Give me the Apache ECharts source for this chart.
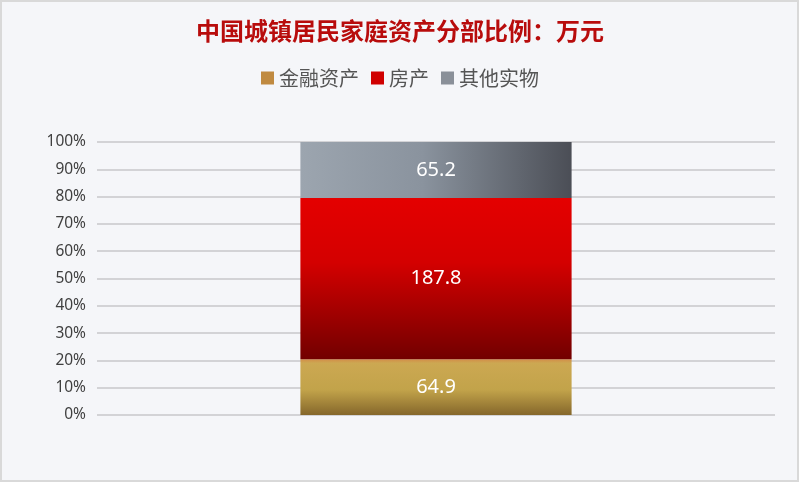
<!DOCTYPE html>
<html><head><meta charset="utf-8">
<script src="https://cdn.jsdelivr.net/npm/echarts@6/dist/echarts.min.js"></script>
<style>html,body{margin:0;padding:0;background:#fff;}#c{width:800px;height:494px;}</style>
</head><body><div id="c"></div>
<script>
const categories = [''];
const seriesNames = ['金融资产', '房产', '其他实物'];
const financial = [64.9];
const housing = [187.8];
const other = [65.2];
const yTicks = [0, 10, 20, 30, 40, 50, 60, 70, 80, 90, 100];

const raw = [financial, housing, other];
const totals = categories.map((c, i) => raw.reduce((s, a) => s + a[i], 0));
const pct = raw.map(a => a.map((v, i) => ({ value: v / totals[i] * 100, raw: v })));

const colors = [
  { type: 'linear', x: 0, y: 0, x2: 0, y2: 1, colorStops: [
    { offset: 0, color: '#d38e48' }, { offset: 0.07, color: '#cca852' },
    { offset: 0.55, color: '#c2a34a' }, { offset: 1, color: '#85672b' }] },
  { type: 'linear', x: 0, y: 0, x2: 0, y2: 1, colorStops: [
    { offset: 0, color: '#e40000' }, { offset: 0.4, color: '#d40000' },
    { offset: 1, color: '#720000' }] },
  { type: 'linear', x: 0, y: 0, x2: 1, y2: 0, colorStops: [
    { offset: 0, color: '#9ca5af' }, { offset: 0.45, color: '#8a939e' },
    { offset: 1, color: '#4b4e56' }] }
];
const legendColors = ['#c08a40', '#d00000', '#8a9099'];

const chart = echarts.init(document.getElementById('c'));
chart.setOption({
  animation: false,
  backgroundColor: '#ffffff',
  graphic: [{
    type: 'rect', z: -10, silent: true,
    shape: { x: 1, y: 1, width: 797, height: 480 },
    style: { fill: '#f5f6f9', stroke: '#d9d9d9', lineWidth: 2 }
  }],
  title: {
    text: '中国城镇居民家庭资产分部比例：万元',
    left: 'center', top: 14,
    textStyle: { color: '#b80c0c', fontSize: 24, fontWeight: 'bold', fontFamily: 'Noto Sans CJK SC' }
  },
  legend: {
    top: 63, left: 'center', itemWidth: 13, itemHeight: 13, itemGap: 12,
    icon: 'rect',
    textStyle: { fontSize: 20, color: '#555', fontFamily: 'Noto Sans CJK SC' },
    data: seriesNames.map((n, i) => ({ name: n, itemStyle: { color: legendColors[i] } }))
  },
  grid: { left: 97, right: 25, top: 142, bottom: 79, containLabel: false },
  xAxis: {
    type: 'category', data: categories,
    axisLine: { show: false }, axisTick: { show: false }, axisLabel: { show: false }
  },
  yAxis: {
    type: 'value', min: 0, max: 100, interval: 10,
    axisLine: { show: false }, axisTick: { show: false },
    axisLabel: { formatter: '{value}%', color: '#404040', fontSize: 15.5, margin: 11, fontFamily: 'Noto Sans' },
    splitLine: { lineStyle: { color: '#d3d3d6', width: 2 } }
  },
  series: seriesNames.map((n, i) => ({
    name: n, type: 'bar', stack: 'total', barWidth: '40%',
    data: pct[i],
    itemStyle: { color: colors[i] },
    label: {
      show: true, position: 'inside', color: '#fff', fontSize: 20, fontFamily: 'Noto Sans',
      formatter: p => p.data.raw.toFixed(1)
    }
  }))
});
</script></body></html>
